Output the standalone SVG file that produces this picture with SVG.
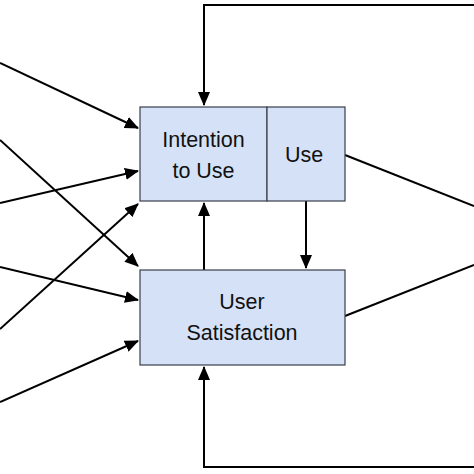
<svg xmlns="http://www.w3.org/2000/svg" width="474" height="474" viewBox="0 0 474 474">
<style>
.box{fill:#d5e1f7;stroke:#3a3f4a;stroke-width:1.2}
.lbl{font-family:"Liberation Sans",Arial,sans-serif;font-size:21.5px;fill:#111;text-anchor:middle}
.con{fill:none;stroke:#000;stroke-width:2}
</style>
<defs>
<marker id="ah" markerUnits="userSpaceOnUse" markerWidth="14" markerHeight="12" refX="13" refY="6" orient="auto">
<path d="M0,0 L14,6 L0,12 Z" fill="#000"/>
</marker>
</defs>
<rect width="474" height="474" fill="#fff"/>
<g id="connectors">
<path class="con" d="M474,5 H204 V105" marker-end="url(#ah)"/>
<path class="con" d="M474,467 H204 V367" marker-end="url(#ah)"/>
<path class="con" d="M204,270 V203" marker-end="url(#ah)"/>
<path class="con" d="M306,201 V268" marker-end="url(#ah)"/>
<path class="con" d="M345,155 L474,206"/>
<path class="con" d="M345,316 L474,265"/>
<path class="con" d="M0,63 L138,128" marker-end="url(#ah)"/>
<path class="con" d="M0,140 L138,266" marker-end="url(#ah)"/>
<path class="con" d="M0,203 L138,171" marker-end="url(#ah)"/>
<path class="con" d="M0,329 L138,204" marker-end="url(#ah)"/>
<path class="con" d="M0,267 L138,300" marker-end="url(#ah)"/>
<path class="con" d="M0,402 L138,341" marker-end="url(#ah)"/>
</g>
<g id="intention">
<rect class="box" x="140" y="107" width="127" height="94"/>
<text class="lbl" x="203.5" y="147">Intention</text>
<text class="lbl" x="203.5" y="178">to Use</text>
</g>
<g id="use">
<rect class="box" x="267" y="107" width="78" height="94"/>
<text class="lbl" x="304" y="162">Use</text>
</g>
<g id="satisfaction">
<rect class="box" x="140" y="270" width="205" height="95"/>
<text class="lbl" x="242" y="309">User</text>
<text class="lbl" x="242" y="340">Satisfaction</text>
</g>
</svg>
